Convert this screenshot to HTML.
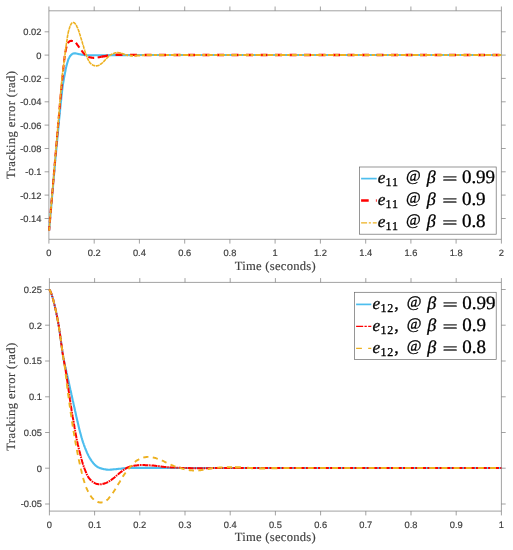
<!DOCTYPE html>
<html lang="en"><head><meta charset="utf-8"><title>Tracking error</title>
<style>html,body{margin:0;padding:0;background:#fff}svg{display:block;text-rendering:geometricPrecision}</style></head>
<body>
<svg width="513" height="550" viewBox="0 0 513 550">
<rect width="513" height="550" fill="#fff"/>
<g stroke="#7a7a7a" stroke-width="0.7" fill="none">
<path d="M48.9 10.8H501.4V239.3H48.9Z"/>
<path d="M48.9 239.3v4.3M48.9 10.8v-4.3M94.2 239.3v4.3M94.2 10.8v-4.3M139.4 239.3v4.3M139.4 10.8v-4.3M184.7 239.3v4.3M184.7 10.8v-4.3M229.9 239.3v4.3M229.9 10.8v-4.3M275.1 239.3v4.3M275.1 10.8v-4.3M320.4 239.3v4.3M320.4 10.8v-4.3M365.7 239.3v4.3M365.7 10.8v-4.3M410.9 239.3v4.3M410.9 10.8v-4.3M456.1 239.3v4.3M456.1 10.8v-4.3M501.4 239.3v4.3M501.4 10.8v-4.3M48.9 31.8h-4.3M501.4 31.8h4.3M48.9 55.1h-4.3M501.4 55.1h4.3M48.9 78.4h-4.3M501.4 78.4h4.3M48.9 101.8h-4.3M501.4 101.8h4.3M48.9 125.1h-4.3M501.4 125.1h4.3M48.9 148.5h-4.3M501.4 148.5h4.3M48.9 171.8h-4.3M501.4 171.8h4.3M48.9 195.1h-4.3M501.4 195.1h4.3M48.9 218.5h-4.3M501.4 218.5h4.3"/>
</g>
<g font-family="'Liberation Sans', Arial, Helvetica, sans-serif" font-size="9.3" fill="#404040" stroke="#404040" stroke-width="0.2">
<text x="48.9" y="255.8" text-anchor="middle">0</text>
<text x="94.2" y="255.8" text-anchor="middle">0.2</text>
<text x="139.4" y="255.8" text-anchor="middle">0.4</text>
<text x="184.7" y="255.8" text-anchor="middle">0.6</text>
<text x="229.9" y="255.8" text-anchor="middle">0.8</text>
<text x="275.1" y="255.8" text-anchor="middle">1</text>
<text x="320.4" y="255.8" text-anchor="middle">1.2</text>
<text x="365.7" y="255.8" text-anchor="middle">1.4</text>
<text x="410.9" y="255.8" text-anchor="middle">1.6</text>
<text x="456.1" y="255.8" text-anchor="middle">1.8</text>
<text x="501.4" y="255.8" text-anchor="middle">2</text>
<text x="41.4" y="35.2" text-anchor="end">0.02</text>
<text x="41.4" y="58.5" text-anchor="end">0</text>
<text x="41.4" y="81.8" text-anchor="end">-0.02</text>
<text x="41.4" y="105.2" text-anchor="end">-0.04</text>
<text x="41.4" y="128.5" text-anchor="end">-0.06</text>
<text x="41.4" y="151.9" text-anchor="end">-0.08</text>
<text x="41.4" y="175.2" text-anchor="end">-0.1</text>
<text x="41.4" y="198.5" text-anchor="end">-0.12</text>
<text x="41.4" y="221.9" text-anchor="end">-0.14</text>
</g>
<g font-family="'Liberation Serif', 'Times New Roman', serif" font-size="12.6" fill="#404040" stroke="#404040" stroke-width="0.15">
<text x="275.2" y="270.0" text-anchor="middle" textLength="81" lengthAdjust="spacing">Time (seconds)</text>
<text transform="translate(15.4 125.0) rotate(-90)" text-anchor="middle" textLength="108" lengthAdjust="spacing">Tracking error (rad)</text>
</g>
<g fill="none" stroke-linejoin="round">
<path d="M49.1 230.6L49.3 228.8L49.5 226.5L49.7 223.9L50.0 220.9L50.2 217.6L50.5 214.2L50.9 210.6L51.2 207.0L51.5 203.3L51.8 199.7L52.1 196.3L52.4 193.0L52.7 189.8L53.0 186.7L53.2 183.5L53.5 180.3L53.8 177.1L54.1 174.0L54.4 170.8L54.7 167.6L54.9 164.4L55.2 161.3L55.5 158.1L55.8 155.0L56.1 151.9L56.4 148.7L56.7 145.5L57.0 142.3L57.3 139.1L57.6 135.9L57.9 132.7L58.2 129.6L58.5 126.6L58.8 123.6L59.0 120.8L59.3 118.0L59.6 115.3L59.8 112.7L60.1 110.1L60.3 107.5L60.6 105.0L60.8 102.6L61.1 100.3L61.3 98.0L61.5 95.8L61.8 93.8L62.0 91.8L62.2 90.0L62.4 88.3L62.6 86.8L62.8 85.3L63.0 84.0L63.2 82.8L63.4 81.7L63.6 80.6L63.8 79.6L63.9 78.6L64.1 77.6L64.3 76.5L64.5 75.5L64.7 74.5L64.9 73.4L65.1 72.4L65.3 71.5L65.5 70.5L65.6 69.6L65.8 68.7L66.0 67.8L66.2 67.0L66.4 66.1L66.6 65.4L66.8 64.6L67.0 63.9L67.2 63.2L67.4 62.5L67.6 61.9L67.8 61.2L68.0 60.6L68.1 60.1L68.3 59.5L68.5 59.0L68.8 58.5L69.0 58.1L69.2 57.6L69.4 57.2L69.7 56.8L69.9 56.4L70.2 56.0L70.4 55.7L70.7 55.4L71.0 55.1L71.2 54.9L71.5 54.6L71.8 54.4L72.0 54.2L72.3 54.0L72.6 53.8L72.8 53.7L73.0 53.6L73.2 53.5L73.5 53.5L73.7 53.4L73.9 53.4L74.2 53.4L74.5 53.4L74.7 53.4L75.1 53.4L75.4 53.4L75.8 53.4L76.2 53.5L76.6 53.6L77.0 53.7L77.5 53.8L78.0 53.9L78.4 54.0L78.9 54.1L79.4 54.2L79.9 54.3L80.4 54.4L80.9 54.5L81.4 54.6L81.8 54.7L82.2 54.7L82.7 54.8L83.1 54.9L83.5 55.0L84.0 55.0L84.5 55.1L85.1 55.2L85.7 55.2L86.3 55.3L87.1 55.3L87.8 55.3L88.4 55.3L89.0 55.3L89.5 55.3L90.1 55.3L90.8 55.3L91.7 55.3L92.7 55.3L94.0 55.3L95.6 55.2L97.6 55.2L100.0 55.2L103.0 55.2L106.8 55.2L111.1 55.1L115.8 55.1L120.7 55.1L125.8 55.1L130.8 55.0L135.7 55.0L140.1 55.0L144.1 55.0L147.5 55.0L150.0 55.0L501.4 55.0" stroke="#4dbeee" stroke-width="2.1"/>
<path d="M49.1 230.6L49.3 228.8L49.4 226.5L49.7 223.9L49.9 220.9L50.2 217.6L50.5 214.2L50.8 210.6L51.1 207.0L51.4 203.3L51.7 199.7L52.0 196.3L52.3 193.0L52.6 189.8L52.8 186.7L53.1 183.5L53.4 180.3L53.6 177.1L53.9 174.0L54.2 170.8L54.4 167.6L54.7 164.4L55.0 161.3L55.2 158.1L55.5 155.0L55.8 151.9L56.0 148.8L56.3 145.7L56.6 142.6L56.8 139.5L57.1 136.4L57.4 133.3L57.6 130.2L57.9 127.2L58.2 124.1L58.4 121.0L58.7 118.0L59.0 114.9L59.3 111.7L59.6 108.5L59.8 105.3L60.1 102.0L60.4 98.8L60.7 95.7L61.0 92.6L61.3 89.7L61.5 86.9L61.8 84.4L62.0 82.0L62.2 79.9L62.4 77.9L62.6 76.1L62.7 74.5L62.9 73.0L63.0 71.6L63.1 70.2L63.3 69.0L63.4 67.7L63.5 66.5L63.7 65.3L63.8 64.0L63.9 62.7L64.1 61.5L64.2 60.3L64.4 59.1L64.5 57.9L64.7 56.8L64.8 55.8L65.0 54.7L65.1 53.7L65.3 52.8L65.4 51.9L65.6 51.0L65.8 50.2L65.9 49.4L66.1 48.7L66.2 48.0L66.4 47.4L66.5 46.8L66.7 46.2L66.9 45.7L67.0 45.2L67.2 44.7L67.4 44.2L67.6 43.8L67.8 43.4L68.0 43.0L68.2 42.7L68.4 42.4L68.7 42.1L68.9 41.9L69.1 41.7L69.4 41.5L69.6 41.3L69.9 41.2L70.2 41.1L70.5 41.0L70.8 40.9L71.2 40.9L71.5 40.9L71.9 40.9L72.3 41.0L72.7 41.1L73.1 41.2L73.5 41.3L73.9 41.5L74.4 41.7L74.8 42.0L75.2 42.3L75.6 42.7L76.0 43.1L76.5 43.6L76.9 44.1L77.3 44.7L77.7 45.3L78.2 45.9L78.6 46.6L79.1 47.2L79.5 47.8L80.0 48.4L80.4 49.0L80.8 49.6L81.3 50.1L81.7 50.7L82.2 51.3L82.6 51.9L83.1 52.5L83.5 53.1L84.0 53.6L84.5 54.2L85.0 54.7L85.5 55.1L86.0 55.5L86.6 55.9L87.1 56.2L87.7 56.5L88.3 56.7L88.9 57.0L89.6 57.2L90.2 57.4L90.8 57.5L91.5 57.6L92.1 57.8L92.8 57.8L93.4 57.9L94.0 57.9L94.7 57.9L95.3 57.9L95.9 57.8L96.5 57.7L97.2 57.6L97.8 57.5L98.5 57.3L99.1 57.2L99.8 57.1L100.5 56.9L101.2 56.8" stroke="#ff0000" stroke-width="2.1" stroke-dasharray="6 3.5" stroke-dashoffset="1.5"/>
<path d="M101.2 56.8L101.9 56.7L102.7 56.5L103.4 56.4L104.2 56.3L105.0 56.1L105.7 56.0L106.5 55.8L107.3 55.7L108.1 55.5L108.9 55.4L109.7 55.3L110.5 55.2L111.3 55.1L112.0 55.1L112.7 55.0L113.4 55.0L114.2 54.9L114.9 54.9L115.6 54.9L116.4 54.8L117.2 54.8L118.1 54.8L119.0 54.8L120.0 54.8L121.1 54.8L122.2 54.8L123.4 54.8L124.6 54.8L125.9 54.8L127.2 54.8L128.5 54.9L129.8 54.9L131.1 54.9L132.4 54.9L133.7 54.9L135.0 55.0L136.3 55.0L137.7 55.0L139.1 55.0L140.6 55.0L142.0 55.0L143.4 55.0L144.8 55.0L146.1 55.0L147.3 55.0L148.4 55.0L149.3 55.0L150.0 55.0L501.4 55.0" stroke="#ff0000" stroke-width="2.4" stroke-dasharray="7 7.5"/>
<path d="M49.1 230.6L49.3 228.8L49.4 226.5L49.7 223.9L49.9 220.9L50.2 217.6L50.5 214.2L50.8 210.6L51.1 207.0L51.4 203.3L51.7 199.7L52.0 196.3L52.3 193.0L52.6 189.8L52.8 186.7L53.1 183.5L53.4 180.3L53.6 177.1L53.9 174.0L54.2 170.8L54.4 167.6L54.7 164.4L55.0 161.3L55.2 158.1L55.5 155.0L55.8 151.9L56.0 148.8L56.3 145.7L56.5 142.6L56.8 139.6L57.0 136.5L57.3 133.4L57.6 130.4L57.8 127.3L58.1 124.2L58.3 121.1L58.6 118.0L58.9 114.8L59.1 111.5L59.4 108.0L59.7 104.6L60.0 101.1L60.3 97.6L60.6 94.3L60.8 91.0L61.1 87.9L61.3 85.0L61.6 82.4L61.8 80.0L62.0 77.9L62.2 76.2L62.4 74.6L62.5 73.3L62.7 72.1L62.8 71.1L62.9 70.1L63.1 69.1L63.2 68.2L63.4 67.1L63.5 65.9L63.7 64.6L63.9 63.1L64.1 61.6L64.3 60.0L64.5 58.4L64.7 56.8L64.9 55.2L65.1 53.5L65.3 51.9L65.5 50.3L65.7 48.8L65.9 47.3L66.1 45.9L66.3 44.5L66.5 43.2L66.7 41.9L66.9 40.6L67.1 39.3L67.3 38.1L67.4 36.9L67.6 35.8L67.8 34.7L68.0 33.7L68.2 32.7L68.4 31.8L68.6 31.0L68.8 30.2L69.0 29.4L69.2 28.8L69.4 28.1L69.6 27.6L69.8 27.0L69.9 26.5L70.1 26.1L70.3 25.6L70.5 25.2L70.7 24.8L70.9 24.4L71.1 24.1L71.2 23.8L71.4 23.5L71.6 23.3L71.7 23.1L71.9 23.0L72.1 22.8L72.2 22.7L72.4 22.6L72.6 22.5L72.8 22.5L73.0 22.5L73.2 22.5L73.4 22.5L73.6 22.5L73.8 22.6L74.0 22.7L74.3 22.8L74.5 23.0L74.7 23.2L74.9 23.4L75.2 23.7L75.4 24.0L75.6 24.3L75.9 24.7L76.1 25.1L76.4 25.5L76.6 26.0L76.9 26.5L77.1 27.0L77.4 27.6L77.7 28.2L77.9 28.8L78.2 29.5L78.5 30.3L78.8 31.1L79.1 32.0L79.4 33.0L79.7 34.0L80.1 35.1L80.4 36.2L80.7 37.3L81.1 38.4L81.4 39.5L81.7 40.7L82.1 41.7L82.4 42.8L82.7 43.9L83.0 44.9L83.4 46.0L83.7 47.1L84.0 48.2L84.4 49.3L84.7 50.4L85.0 51.4L85.3 52.4L85.6 53.4L86.0 54.3L86.3 55.2L86.6 56.0L86.9 56.8L87.2 57.6L87.5 58.3L87.8 59.0L88.2 59.7L88.5 60.3L88.8 60.9L89.1 61.5L89.5 62.0L89.8 62.5L90.2 63.0L90.6 63.4L91.0 63.8L91.5 64.2L91.9 64.5L92.4 64.8L92.9 65.1L93.3 65.3L93.8 65.5L94.3 65.6L94.8 65.8L95.2 65.8L95.7 65.9L96.2 65.9L96.6 65.9L97.1 65.8L97.5 65.7L98.0 65.6L98.4 65.4L98.9 65.2L99.3 65.0L99.8 64.7L100.2 64.4L100.7 64.1L101.2 63.8L101.7 63.4L102.2 63.0L102.8 62.5L103.3 61.9L103.9 61.4L104.4 60.8L104.9 60.2L105.5 59.6L106.0 59.0L106.5 58.5L107.0 58.0L107.4 57.6L107.8 57.2L108.2 56.9L108.5 56.6L108.8 56.3L109.1 56.0L109.4 55.8L109.7 55.5L110.0 55.3L110.3 55.1L110.6 54.9L110.9 54.7L111.3 54.5L111.7 54.3L112.1 54.1L112.6 53.9L113.0 53.7L113.5 53.5L114.0 53.3L114.4 53.1L114.9 53.0L115.4 52.8L115.9 52.7L116.3 52.7L116.8 52.6L117.2 52.6L117.7 52.6L118.1 52.6L118.6 52.7L119.0 52.7L119.4 52.8L119.9 52.9L120.3 53.0L120.7 53.2L121.1 53.3L121.6 53.4L122.0 53.5L122.4 53.6L122.8 53.7L123.2 53.9L123.6 54.0L124.0 54.2L124.4 54.3L124.9 54.5L125.3 54.6L125.7 54.7L126.0 54.8" stroke="#edb120" stroke-width="1.6" stroke-dasharray="3.7 0.6"/>
<path d="M126.0 54.8L126.1 54.9L126.5 55.0L127.0 55.1L127.5 55.2L127.9 55.3L128.4 55.4L128.9 55.4L129.4 55.5L129.9 55.6L130.4 55.6L130.9 55.7L131.4 55.7L131.9 55.8L132.5 55.8L133.0 55.8L133.5 55.8L134.1 55.8L134.6 55.8L135.1 55.8L135.7 55.7L136.2 55.7L136.8 55.6L137.4 55.6L138.0 55.5L138.6 55.5L139.3 55.4L140.0 55.4L140.8 55.4L141.6 55.3L142.5 55.3L143.5 55.2L144.5 55.2L145.4 55.2L146.4 55.1L147.3 55.1L148.1 55.0L148.9 55.0L149.5 55.0L150.0 55.0L501.4 55.0" stroke="#edb120" stroke-width="2.0" stroke-dasharray="5.8 1.5 3.3 1.5" stroke-dashoffset="3.5"/>
</g>
<g stroke="#7a7a7a" stroke-width="0.7" fill="none">
<path d="M49.4 282.4H501.4V511.1H49.4Z"/>
<path d="M49.4 511.1v4.3M49.4 282.4v-4.3M94.6 511.1v4.3M94.6 282.4v-4.3M139.8 511.1v4.3M139.8 282.4v-4.3M185.0 511.1v4.3M185.0 282.4v-4.3M230.2 511.1v4.3M230.2 282.4v-4.3M275.4 511.1v4.3M275.4 282.4v-4.3M320.6 511.1v4.3M320.6 282.4v-4.3M365.8 511.1v4.3M365.8 282.4v-4.3M411.0 511.1v4.3M411.0 282.4v-4.3M456.2 511.1v4.3M456.2 282.4v-4.3M501.4 511.1v4.3M501.4 282.4v-4.3M49.4 289.5h-4.3M501.4 289.5h4.3M49.4 325.2h-4.3M501.4 325.2h4.3M49.4 361.0h-4.3M501.4 361.0h4.3M49.4 396.8h-4.3M501.4 396.8h4.3M49.4 432.5h-4.3M501.4 432.5h4.3M49.4 468.2h-4.3M501.4 468.2h4.3M49.4 504.0h-4.3M501.4 504.0h4.3"/>
</g>
<g font-family="'Liberation Sans', Arial, Helvetica, sans-serif" font-size="9.3" fill="#404040" stroke="#404040" stroke-width="0.2">
<text x="49.4" y="527.6" text-anchor="middle">0</text>
<text x="94.6" y="527.6" text-anchor="middle">0.1</text>
<text x="139.8" y="527.6" text-anchor="middle">0.2</text>
<text x="185.0" y="527.6" text-anchor="middle">0.3</text>
<text x="230.2" y="527.6" text-anchor="middle">0.4</text>
<text x="275.4" y="527.6" text-anchor="middle">0.5</text>
<text x="320.6" y="527.6" text-anchor="middle">0.6</text>
<text x="365.8" y="527.6" text-anchor="middle">0.7</text>
<text x="411.0" y="527.6" text-anchor="middle">0.8</text>
<text x="456.2" y="527.6" text-anchor="middle">0.9</text>
<text x="501.4" y="527.6" text-anchor="middle">1</text>
<text x="41.9" y="292.9" text-anchor="end">0.25</text>
<text x="41.9" y="328.6" text-anchor="end">0.2</text>
<text x="41.9" y="364.4" text-anchor="end">0.15</text>
<text x="41.9" y="400.1" text-anchor="end">0.1</text>
<text x="41.9" y="435.9" text-anchor="end">0.05</text>
<text x="41.9" y="471.6" text-anchor="end">0</text>
<text x="41.9" y="507.4" text-anchor="end">-0.05</text>
</g>
<g font-family="'Liberation Serif', 'Times New Roman', serif" font-size="12.6" fill="#404040" stroke="#404040" stroke-width="0.15">
<text x="275.2" y="541.0" text-anchor="middle" textLength="81" lengthAdjust="spacing">Time (seconds)</text>
<text transform="translate(15.4 396.8) rotate(-90)" text-anchor="middle" textLength="108" lengthAdjust="spacing">Tracking error (rad)</text>
</g>
<g fill="none" stroke-linejoin="round">
<path d="M49.4 289.4L49.5 289.6L49.6 289.9L49.8 290.2L50.0 290.5L50.2 290.9L50.4 291.3L50.6 291.8L50.8 292.3L51.0 292.8L51.3 293.4L51.5 294.0L51.7 294.6L51.9 295.3L52.1 296.0L52.4 296.8L52.6 297.6L52.9 298.5L53.1 299.4L53.4 300.4L53.6 301.3L53.9 302.3L54.1 303.3L54.4 304.3L54.6 305.3L54.8 306.3L55.1 307.4L55.3 308.6L55.6 309.7L55.9 310.9L56.1 312.1L56.4 313.3L56.6 314.5L56.8 315.6L57.1 316.8L57.3 317.9L57.5 319.0L57.7 320.0L57.9 321.0L58.1 322.0L58.2 323.0L58.4 323.9L58.6 324.9L58.7 325.8L58.9 326.7L59.0 327.7L59.2 328.7L59.3 329.7L59.5 330.7L59.7 331.8L59.8 332.9L60.0 334.0L60.1 335.1L60.3 336.2L60.4 337.4L60.6 338.5L60.8 339.7L60.9 340.8L61.1 342.0L61.2 343.2L61.4 344.3L61.6 345.4L61.7 346.6L61.9 347.8L62.0 348.9L62.2 350.1L62.4 351.2L62.5 352.4L62.7 353.6L62.9 354.7L63.0 355.8L63.2 356.9L63.4 358.0L63.6 359.0L63.8 360.1L64.0 361.0L64.2 362.0L64.4 362.9L64.6 363.9L64.8 364.8L65.0 365.8L65.3 366.8L65.5 367.8L65.7 368.9L66.0 370.0L66.3 371.2L66.5 372.4L66.8 373.6L67.1 374.9L67.4 376.1L67.7 377.5L68.0 378.8L68.3 380.1L68.6 381.5L68.9 382.8L69.2 384.2L69.5 385.6L69.8 387.0L70.1 388.4L70.4 389.8L70.8 391.3L71.1 392.8L71.4 394.2L71.8 395.7L72.1 397.2L72.4 398.7L72.7 400.2L73.1 401.6L73.4 403.1L73.7 404.6L74.0 406.1L74.4 407.5L74.7 409.0L75.0 410.5L75.4 412.0L75.7 413.5L76.0 415.0L76.3 416.4L76.6 417.9L77.0 419.3L77.3 420.7L77.6 422.1L78.0 423.5L78.3 424.8L78.6 426.2L78.9 427.5L79.2 428.9L79.6 430.2L79.9 431.5L80.2 432.7L80.6 433.9L80.9 435.1L81.2 436.3L81.5 437.4L81.9 438.5L82.2 439.6L82.5 440.6L82.8 441.6L83.1 442.6L83.5 443.5L83.8 444.5L84.1 445.4L84.4 446.3L84.8 447.1L85.1 448.0L85.4 448.8L85.8 449.7L86.1 450.5L86.4 451.2L86.7 452.0L87.0 452.7L87.4 453.4L87.7 454.1L88.0 454.8L88.4 455.4L88.7 456.1L89.0 456.7L89.3 457.3L89.6 457.9L90.0 458.4L90.3 458.9L90.6 459.5L91.0 460.0L91.3 460.4L91.6 460.9L91.9 461.3L92.3 461.8L92.6 462.2L92.9 462.6L93.2 463.0L93.5 463.4L93.9 463.8L94.2 464.1L94.5 464.5L94.8 464.8L95.1 465.1L95.4 465.4L95.8 465.7L96.1 466.0L96.4 466.2L96.8 466.5L97.2 466.7L97.5 467.0L97.9 467.2L98.3 467.4L98.7 467.6L99.1 467.7L99.5 467.9L99.9 468.0L100.3 468.2L100.8 468.3L101.2 468.5L101.7 468.6L102.2 468.7L102.7 468.9L103.2 469.0L103.7 469.1L104.3 469.2L104.8 469.3L105.4 469.4L105.9 469.5L106.6 469.6L107.2 469.6L107.8 469.7L108.5 469.7L109.2 469.7L109.9 469.7L110.7 469.6L111.5 469.6L112.3 469.5L113.2 469.4L114.0 469.3L114.9 469.2L115.7 469.2L116.5 469.1L117.4 469.0L118.2 468.9L119.0 468.8L119.8 468.7L120.6 468.7L121.4 468.6L122.2 468.5L123.0 468.4L123.8 468.3L124.6 468.2L125.4 468.2L126.2 468.1L127.1 468.0L128.0 468.0L128.9 468.0L129.8 467.9L130.7 467.9L131.5 467.9L132.4 467.9L133.4 467.9L134.3 467.9L135.3 467.9L136.4 467.9L137.5 467.9L138.7 467.9L140.0 467.9L141.4 467.9L142.9 467.9L144.4 467.9L146.1 467.9L147.8 467.9L149.5 467.9L151.3 467.9L153.0 467.9L154.8 467.9L156.6 467.9L158.3 467.9L160.0 467.9L161.6 467.9L163.1 467.9L164.5 467.9L165.9 467.9L167.3 467.9L168.8 468.0L170.2 468.0L171.9 468.0L173.6 468.0L175.5 468.0L177.6 468.0L180.0 468.0L182.8 468.0L186.0 468.0L189.5 468.0L193.3 468.0L197.3 468.0L201.2 468.0L205.2 468.0L208.9 468.0L212.3 468.0L215.4 468.0L218.0 468.0L220.0 468.0L501.4 468.0" stroke="#4dbeee" stroke-width="2.1"/>
<path d="M49.4 289.4L49.5 289.6L49.6 289.9L49.8 290.2L50.0 290.5L50.2 290.9L50.4 291.3L50.6 291.8L50.8 292.3L51.0 292.8L51.3 293.4L51.5 294.0L51.7 294.6L51.9 295.3L52.1 296.0L52.4 296.8L52.6 297.6L52.9 298.5L53.1 299.4L53.4 300.4L53.6 301.3L53.9 302.3L54.1 303.3L54.4 304.3L54.6 305.3L54.8 306.3L55.1 307.4L55.3 308.6L55.6 309.7L55.9 310.9L56.1 312.1L56.4 313.3L56.6 314.5L56.8 315.6L57.1 316.8L57.3 317.9L57.5 319.0L57.7 320.0L57.9 321.0L58.1 322.0L58.2 323.0L58.4 323.9L58.6 324.9L58.7 325.8L58.9 326.7L59.0 327.7L59.2 328.7L59.3 329.7L59.5 330.7L59.7 331.8L59.8 332.9L60.0 334.0L60.1 335.1L60.3 336.2L60.4 337.4L60.6 338.5L60.8 339.7L60.9 340.8L61.1 342.0L61.2 343.2L61.4 344.3L61.6 345.4L61.7 346.6L61.9 347.8L62.1 348.9L62.2 350.1L62.4 351.2L62.5 352.4L62.7 353.6L62.9 354.7L63.1 355.8L63.2 356.9L63.4 358.0L63.6 359.0L63.7 360.0L63.9 360.9L64.1 361.8L64.3 362.7L64.4 363.6L64.6 364.6L64.8 365.5L65.0 366.5L65.2 367.6L65.4 368.7L65.6 370.0L65.8 371.4L66.0 372.8L66.3 374.3L66.5 375.9L66.8 377.6L67.0 379.3L67.3 381.0L67.5 382.7L67.8 384.4L68.0 386.2L68.3 387.9L68.5 389.5L68.7 391.1L69.0 392.8L69.2 394.4L69.5 396.1L69.7 397.7L69.9 399.4L70.2 401.0L70.4 402.6L70.7 404.3L70.9 405.9L71.2 407.4L71.4 409.0L71.6 410.5L71.9 412.1L72.1 413.6L72.4 415.1L72.6 416.5L72.9 418.0L73.2 419.4L73.4 420.9L73.7 422.3L73.9 423.7L74.2 425.1L74.4 426.5L74.6 427.9L74.9 429.2L75.1 430.6L75.4 431.9L75.6 433.3L75.8 434.6L76.1 435.9L76.3 437.2L76.6 438.4L76.8 439.7L77.0 440.9L77.3 442.1L77.6 443.3L77.8 444.4L78.1 445.6L78.4 446.7L78.6 447.8L78.9 448.9L79.2 449.9L79.4 451.0L79.7 452.0L80.0 453.0L80.2 454.0L80.5 455.0L80.7 456.0L81.0 456.9L81.2 457.8L81.4 458.6L81.6 459.5L81.9 460.4L82.1 461.2L82.3 462.0L82.6 462.9L82.8 463.7L83.1 464.6L83.4 465.5L83.7 466.4L84.1 467.4L84.4 468.4L84.8 469.4L85.2 470.4L85.6 471.4L86.0 472.4L86.4 473.4L86.8 474.3L87.2 475.2L87.7 476.0L88.1 476.8L88.5 477.5L89.0 478.1L89.5 478.7L89.9 479.3L90.4 479.8L90.9 480.3L91.4 480.8L91.9 481.2L92.4 481.6L92.9 481.9L93.4 482.3L93.9 482.6L94.4 482.9L94.9 483.2L95.3 483.4L95.8 483.6L96.3 483.8L96.8 483.9L97.3 484.0L97.7 484.1L98.2 484.2L98.8 484.3L99.3 484.3L99.8 484.3L100.3 484.3L100.9 484.2L101.5 484.2L102.1 484.1L102.6 484.0L103.2 483.8L103.8 483.7L104.4 483.5L105.0 483.3L105.6 483.1L106.2 482.9L106.8 482.6L107.4 482.3L108.0 482.0L108.6 481.7L109.1 481.3L109.7 481.0L110.3 480.6L110.9 480.2L111.5 479.7L112.0 479.3L112.6 478.9L113.2 478.4L113.8 478.0L114.4 477.6L115.0 477.1L115.6 476.6L116.1 476.1L116.7 475.6L117.3 475.1L117.9 474.5L118.5 474.0L119.0 473.5L119.6 473.0L120.2 472.6L120.8 472.1L121.4 471.7L122.0 471.2L122.5 470.8L123.1 470.3L123.7 469.9L124.3 469.5L124.9 469.1L125.5 468.7L126.0 468.3L126.6 468.0L127.2 467.7L127.8 467.4L128.4 467.1L129.0 466.9L129.6 466.7L130.2 466.5L130.8 466.4L131.4 466.2L131.9 466.1L132.5 466.0L133.1 465.9L133.7 465.8L134.3 465.7L134.9 465.6L135.5 465.5L136.0 465.4L136.5 465.4L137.1 465.3L137.6 465.2L138.1 465.2L138.7 465.2L139.2 465.1L139.8 465.1L140.5 465.1L141.2 465.1L141.9 465.1L142.7 465.1L143.6 465.1L144.5 465.1L145.5 465.2L146.4 465.2L147.5 465.2L148.5 465.3L149.5 465.3L150.6 465.4L151.6 465.5L152.6 465.5L153.6 465.6L154.6 465.7L155.5 465.8L156.5 465.9L157.4 466.0L158.3 466.1L159.3 466.3L160.2 466.4L161.2 466.5L162.2 466.7L163.2 466.8L164.2 466.9L165.3 467.0L166.4 467.1L167.5 467.2L168.6 467.2L169.8 467.3L170.9 467.4L172.1 467.5L173.3 467.5L174.6 467.6L175.9 467.6L177.2 467.7L178.6 467.7L180.0 467.8L181.5 467.9L183.0 467.9L184.6 468.0L186.3 468.0L188.0 468.1L189.7 468.1L191.4 468.2L193.1 468.2L194.9 468.2L196.6 468.3L198.3 468.3L200.0 468.3L201.7 468.3L203.6 468.3L205.5 468.3L207.4 468.2L209.3 468.2L211.2 468.2L213.1 468.1L214.8 468.1L216.4 468.1L217.8 468.0L219.0 468.0L220.0 468.0L236.7 468.0" stroke="#ff0000" stroke-width="2.0" stroke-dasharray="6 0.8 1.5 0.8"/>
<path d="M236.7 468.0L501.4 468.0" stroke="#ff0000" stroke-width="2.2" stroke-dasharray="7.1 1.3 2.35 1.4"/>
<path d="M49.4 289.4L49.5 289.6L49.6 289.9L49.8 290.2L50.0 290.5L50.2 290.9L50.4 291.3L50.6 291.8L50.8 292.3L51.0 292.8L51.3 293.4L51.5 294.0L51.7 294.6L51.9 295.3L52.1 296.0L52.4 296.8L52.6 297.6L52.9 298.5L53.1 299.4L53.4 300.4L53.6 301.3L53.9 302.3L54.1 303.3L54.4 304.3L54.6 305.3L54.8 306.3L55.1 307.4L55.3 308.6L55.6 309.7L55.9 310.9L56.1 312.1L56.4 313.3L56.6 314.5L56.8 315.6L57.1 316.8L57.3 317.9L57.5 319.0L57.7 320.0L57.9 321.0L58.1 322.0L58.2 323.0L58.4 323.9L58.6 324.9L58.7 325.8L58.9 326.7L59.0 327.7L59.2 328.7L59.3 329.7L59.5 330.7L59.7 331.8L59.8 332.9L60.0 334.0L60.1 335.1L60.3 336.2L60.4 337.4L60.6 338.5L60.8 339.7L60.9 340.8L61.1 342.0L61.2 343.2L61.4 344.3L61.6 345.4L61.7 346.6L61.9 347.8L62.1 348.9L62.2 350.1L62.4 351.2L62.6 352.4L62.7 353.6L62.9 354.7L63.1 355.8L63.2 356.9L63.4 358.0L63.6 359.0L63.7 360.0L63.9 360.9L64.0 361.8L64.1 362.7L64.3 363.6L64.4 364.6L64.6 365.5L64.7 366.5L64.9 367.6L65.0 368.7L65.2 370.0L65.4 371.4L65.5 372.8L65.7 374.3L65.9 375.9L66.1 377.5L66.3 379.2L66.5 380.9L66.7 382.6L66.9 384.3L67.1 386.0L67.3 387.8L67.5 389.5L67.7 391.2L68.0 393.0L68.2 394.8L68.5 396.6L68.7 398.4L69.0 400.3L69.2 402.1L69.5 403.9L69.7 405.7L70.0 407.5L70.3 409.3L70.5 411.0L70.7 412.7L71.0 414.3L71.2 415.9L71.4 417.5L71.7 419.1L71.9 420.7L72.1 422.3L72.4 423.8L72.6 425.4L72.9 427.1L73.1 428.7L73.4 430.4L73.7 432.1L74.0 433.9L74.3 435.7L74.6 437.6L75.0 439.4L75.3 441.3L75.6 443.2L76.0 445.0L76.3 446.8L76.6 448.6L77.0 450.3L77.3 452.0L77.6 453.6L77.9 455.2L78.2 456.8L78.5 458.3L78.8 459.8L79.2 461.2L79.5 462.7L79.8 464.1L80.1 465.5L80.4 467.0L80.8 468.4L81.1 469.8L81.5 471.2L81.8 472.7L82.2 474.1L82.6 475.6L83.0 477.0L83.3 478.5L83.7 479.9L84.1 481.2L84.5 482.5L84.9 483.8L85.3 485.0L85.7 486.1L86.1 487.1L86.5 488.1L86.9 489.0L87.3 489.9L87.7 490.7L88.0 491.5L88.4 492.2L88.8 492.9L89.2 493.6L89.6 494.3L90.0 494.9L90.4 495.5L90.8 496.1L91.2 496.6L91.5 497.2L91.9 497.6L92.3 498.1L92.7 498.5L93.1 498.9L93.5 499.3L93.8 499.7L94.3 500.0L94.7 500.3L95.1 500.6L95.5 500.9L96.0 501.2L96.5 501.4L96.9 501.6L97.4 501.8L97.9 502.0L98.4 502.2L98.9 502.3L99.4 502.4L99.9 502.5L100.4 502.5L100.9 502.5L101.4 502.5L101.9 502.4L102.4 502.3L102.9 502.2L103.4 502.1L103.8 501.9L104.3 501.7L104.8 501.5L105.3 501.2L105.8 500.9L106.3 500.6L106.8 500.2L107.3 499.8L107.8 499.3L108.3 498.8L108.7 498.3L109.2 497.7L109.7 497.1L110.2 496.5L110.7 495.9L111.1 495.2L111.6 494.6L112.1 493.9L112.6 493.2L113.1 492.5L113.6 491.8L114.1 491.0L114.6 490.2L115.1 489.5L115.6 488.6L116.0 487.8L116.5 487.0L117.0 486.2L117.5 485.4L118.0 484.6L118.5 483.8L119.0 483.0L119.5 482.2L120.0 481.4L120.4 480.6L120.9 479.8L121.4 479.0L121.9 478.2L122.4 477.4L122.8 476.6L123.3 475.9L123.8 475.1L124.3 474.4L124.8 473.7L125.3 473.0L125.8 472.4L126.3 471.7L126.8 471.1L127.2 470.5L127.7 469.9L128.2 469.3L128.7 468.7L129.2 468.1L129.7 467.6L130.2 467.0L130.7 466.4L131.2 465.9L131.7 465.4L132.1 464.8L132.6 464.3L133.1 463.8L133.6 463.3L134.1 462.8L134.5 462.3L135.0 461.9L135.5 461.5L136.0 461.1L136.5 460.7L137.0 460.4L137.5 460.1L138.0 459.8L138.5 459.6L139.0 459.3L139.4 459.1L139.9 458.9L140.4 458.7L140.9 458.5L141.4 458.3L141.9 458.1L142.4 457.9L142.9 457.8L143.4 457.6L143.8 457.5L144.3 457.4L144.8 457.3L145.3 457.2L145.8 457.1L146.2 457.0L146.7 457.0L147.2 456.9L147.7 456.9L148.2 456.9L148.7 456.9L149.1 456.9L149.6 456.9L150.1 457.0L150.6 457.0L151.1 457.1L151.5 457.2L152.0 457.3L152.6 457.4L153.1 457.5L153.6 457.6L154.1 457.7L154.7 457.9L155.3 458.0L155.9 458.2L156.4 458.4L157.0 458.6L157.6 458.8L158.2 459.0L158.8 459.2L159.4 459.4L160.0 459.7L160.6 459.9L161.2 460.1L161.8 460.4L162.4 460.7L162.9 460.9L163.5 461.2L164.1 461.5L164.7 461.8L165.3 462.1L165.8 462.4L166.4 462.6L167.0 462.9L167.6 463.2L168.2 463.5L168.8 463.7L169.4 464.0L170.0 464.3L170.6 464.6L171.2 464.9L171.8 465.1L172.4 465.4L173.0 465.6L173.5 465.9L174.1 466.1L174.6 466.3L175.1 466.5L175.6 466.7L176.0 466.8L176.5 466.9L176.9 467.1L177.3 467.2L177.7 467.3L178.1 467.4L178.6 467.5L179.0 467.6L179.5 467.8L180.0 467.9L180.5 468.1L181.1 468.2L181.6 468.4L182.1 468.6L182.7 468.7L183.3 468.9L183.9 469.1L184.5 469.2L185.1 469.4L185.7 469.5L186.3 469.7L187.0 469.8L187.7 469.9L188.4 470.0L189.1 470.1L189.8 470.2L190.6 470.3L191.3 470.4L192.1 470.4L192.8 470.5L193.6 470.6L194.4 470.6L195.1 470.6L195.9 470.6L196.7 470.6L197.4 470.5L198.2 470.5L199.0 470.4L199.7 470.3L200.5 470.2L201.3 470.1L202.0 470.0L202.8 469.9L203.5 469.8L204.3 469.7L205.0 469.6L205.7 469.5L206.4 469.4L207.0 469.2L207.6 469.1L208.2 469.0L208.8 468.8L209.4 468.7L210.1 468.6L210.7 468.4L211.4 468.3L212.2 468.2L213.0 468.1L213.9 468.0L214.8 467.9L215.7 467.8L216.7 467.8L217.7 467.7L218.7 467.6L219.7 467.5L220.8 467.5L221.8 467.4L222.9 467.4L224.0 467.3L225.0 467.3L226.1 467.3L227.1 467.2L228.2 467.2L229.3 467.2L230.4 467.2L231.5 467.2L232.6 467.2L233.7 467.2L234.8 467.2L235.0 467.2" stroke="#edb120" stroke-width="1.9" stroke-dasharray="5.2 4.4"/>
<path d="M235.0 467.2L235.9 467.3L236.9 467.3L238.0 467.3L239.0 467.3L240.1 467.4L241.1 467.4L242.1 467.5L243.1 467.6L244.1 467.6L245.1 467.7L246.0 467.8L247.0 467.8L248.0 467.9L249.0 468.0L250.0 468.0L251.0 468.0L251.9 468.1L252.9 468.1L253.8 468.2L254.7 468.2L255.6 468.2L256.6 468.2L257.6 468.3L258.6 468.3L259.7 468.3L260.8 468.3L262.0 468.3L263.3 468.3L264.9 468.3L266.5 468.3L268.2 468.2L270.0 468.2L271.8 468.2L273.5 468.1L275.1 468.1L276.6 468.1L278.0 468.0L279.1 468.0L280.0 468.0L501.4 468.0" stroke="#edb120" stroke-width="2.2" stroke-dasharray="5.9 6.25"/>
</g>
<rect x="359.6" y="167.0" width="136.6" height="67.2" fill="#fff" stroke="#6a6a6a" stroke-width="0.7"/>
<path d="M361.1 178.6H376.7" stroke="#4dbeee" stroke-width="1.7" fill="none"/>
<g font-family="'Liberation Serif', 'Times New Roman', serif" font-size="18" fill="#000" stroke="#000" stroke-width="0.3">
<text x="377.7" y="183.3" font-style="italic" font-size="17.2">e</text>
<text x="385.5" y="185.9" font-size="12" textLength="12.6" lengthAdjust="spacing">11</text>
<text x="406.0" y="181.1" font-size="16">@</text>
<text x="426.8" y="183.3" font-style="italic" font-size="18">β</text>
<text transform="translate(442.2 183.9) scale(1.5 0.92)">=</text>
<text x="461.9" y="183.3" font-size="19" textLength="33.2" lengthAdjust="spacing">0.99</text>
</g>
<path d="M361.1 200.6H376.7" stroke="#ff0000" stroke-width="2.5" fill="none" stroke-dasharray="7.6 7.2"/>
<g font-family="'Liberation Serif', 'Times New Roman', serif" font-size="18" fill="#000" stroke="#000" stroke-width="0.3">
<text x="377.7" y="205.3" font-style="italic" font-size="17.2">e</text>
<text x="385.5" y="207.9" font-size="12" textLength="12.6" lengthAdjust="spacing">11</text>
<text x="406.0" y="203.1" font-size="16">@</text>
<text x="426.8" y="205.3" font-style="italic" font-size="18">β</text>
<text transform="translate(442.2 205.9) scale(1.5 0.92)">=</text>
<text x="461.9" y="205.3" font-size="19" textLength="23.7" lengthAdjust="spacing">0.9</text>
</g>
<path d="M361.1 222.9H376.7" stroke="#edb120" stroke-width="1.3" fill="none" stroke-dasharray="6 1.7 2.1 1.9"/>
<g font-family="'Liberation Serif', 'Times New Roman', serif" font-size="18" fill="#000" stroke="#000" stroke-width="0.3">
<text x="377.7" y="227.4" font-style="italic" font-size="17.2">e</text>
<text x="385.5" y="230.0" font-size="12" textLength="12.6" lengthAdjust="spacing">11</text>
<text x="406.0" y="225.2" font-size="16">@</text>
<text x="426.8" y="227.4" font-style="italic" font-size="18">β</text>
<text transform="translate(442.2 228.0) scale(1.5 0.92)">=</text>
<text x="461.9" y="227.4" font-size="19" textLength="23.7" lengthAdjust="spacing">0.8</text>
</g>
<rect x="354.4" y="292.3" width="141.8" height="67.1" fill="#fff" stroke="#6a6a6a" stroke-width="0.7"/>
<path d="M356.1 304.4H371.3" stroke="#4dbeee" stroke-width="1.7" fill="none"/>
<g font-family="'Liberation Serif', 'Times New Roman', serif" font-size="18" fill="#000" stroke="#000" stroke-width="0.3">
<text x="372.6" y="309.0" font-style="italic" font-size="17.2">e</text>
<text x="380.6" y="311.6" font-size="12" textLength="12.6" lengthAdjust="spacing">12</text>
<text x="394.2" y="309.0">,</text>
<text x="406.8" y="306.8" font-size="16">@</text>
<text x="427.2" y="309.0" font-style="italic" font-size="18">β</text>
<text transform="translate(442.6 309.6) scale(1.5 0.92)">=</text>
<text x="462.3" y="309.0" font-size="19" textLength="33.2" lengthAdjust="spacing">0.99</text>
</g>
<path d="M356.1 326.4H371.3" stroke="#ff0000" stroke-width="1.4" fill="none" stroke-dasharray="7.1 1.3 2.3 1.4"/>
<g font-family="'Liberation Serif', 'Times New Roman', serif" font-size="18" fill="#000" stroke="#000" stroke-width="0.3">
<text x="372.6" y="331.2" font-style="italic" font-size="17.2">e</text>
<text x="380.6" y="333.8" font-size="12" textLength="12.6" lengthAdjust="spacing">12</text>
<text x="394.2" y="331.2">,</text>
<text x="406.8" y="329.0" font-size="16">@</text>
<text x="427.2" y="331.2" font-style="italic" font-size="18">β</text>
<text transform="translate(442.6 331.8) scale(1.5 0.92)">=</text>
<text x="462.3" y="331.2" font-size="19" textLength="23.7" lengthAdjust="spacing">0.9</text>
</g>
<path d="M356.1 348.3H371.3" stroke="#edb120" stroke-width="1.3" fill="none" stroke-dasharray="5.8 6.3"/>
<g font-family="'Liberation Serif', 'Times New Roman', serif" font-size="18" fill="#000" stroke="#000" stroke-width="0.3">
<text x="372.6" y="353.4" font-style="italic" font-size="17.2">e</text>
<text x="380.6" y="356.0" font-size="12" textLength="12.6" lengthAdjust="spacing">12</text>
<text x="394.2" y="353.4">,</text>
<text x="406.8" y="351.2" font-size="16">@</text>
<text x="427.2" y="353.4" font-style="italic" font-size="18">β</text>
<text transform="translate(442.6 354.0) scale(1.5 0.92)">=</text>
<text x="462.3" y="353.4" font-size="19" textLength="23.7" lengthAdjust="spacing">0.8</text>
</g>
</svg>
</body></html>
